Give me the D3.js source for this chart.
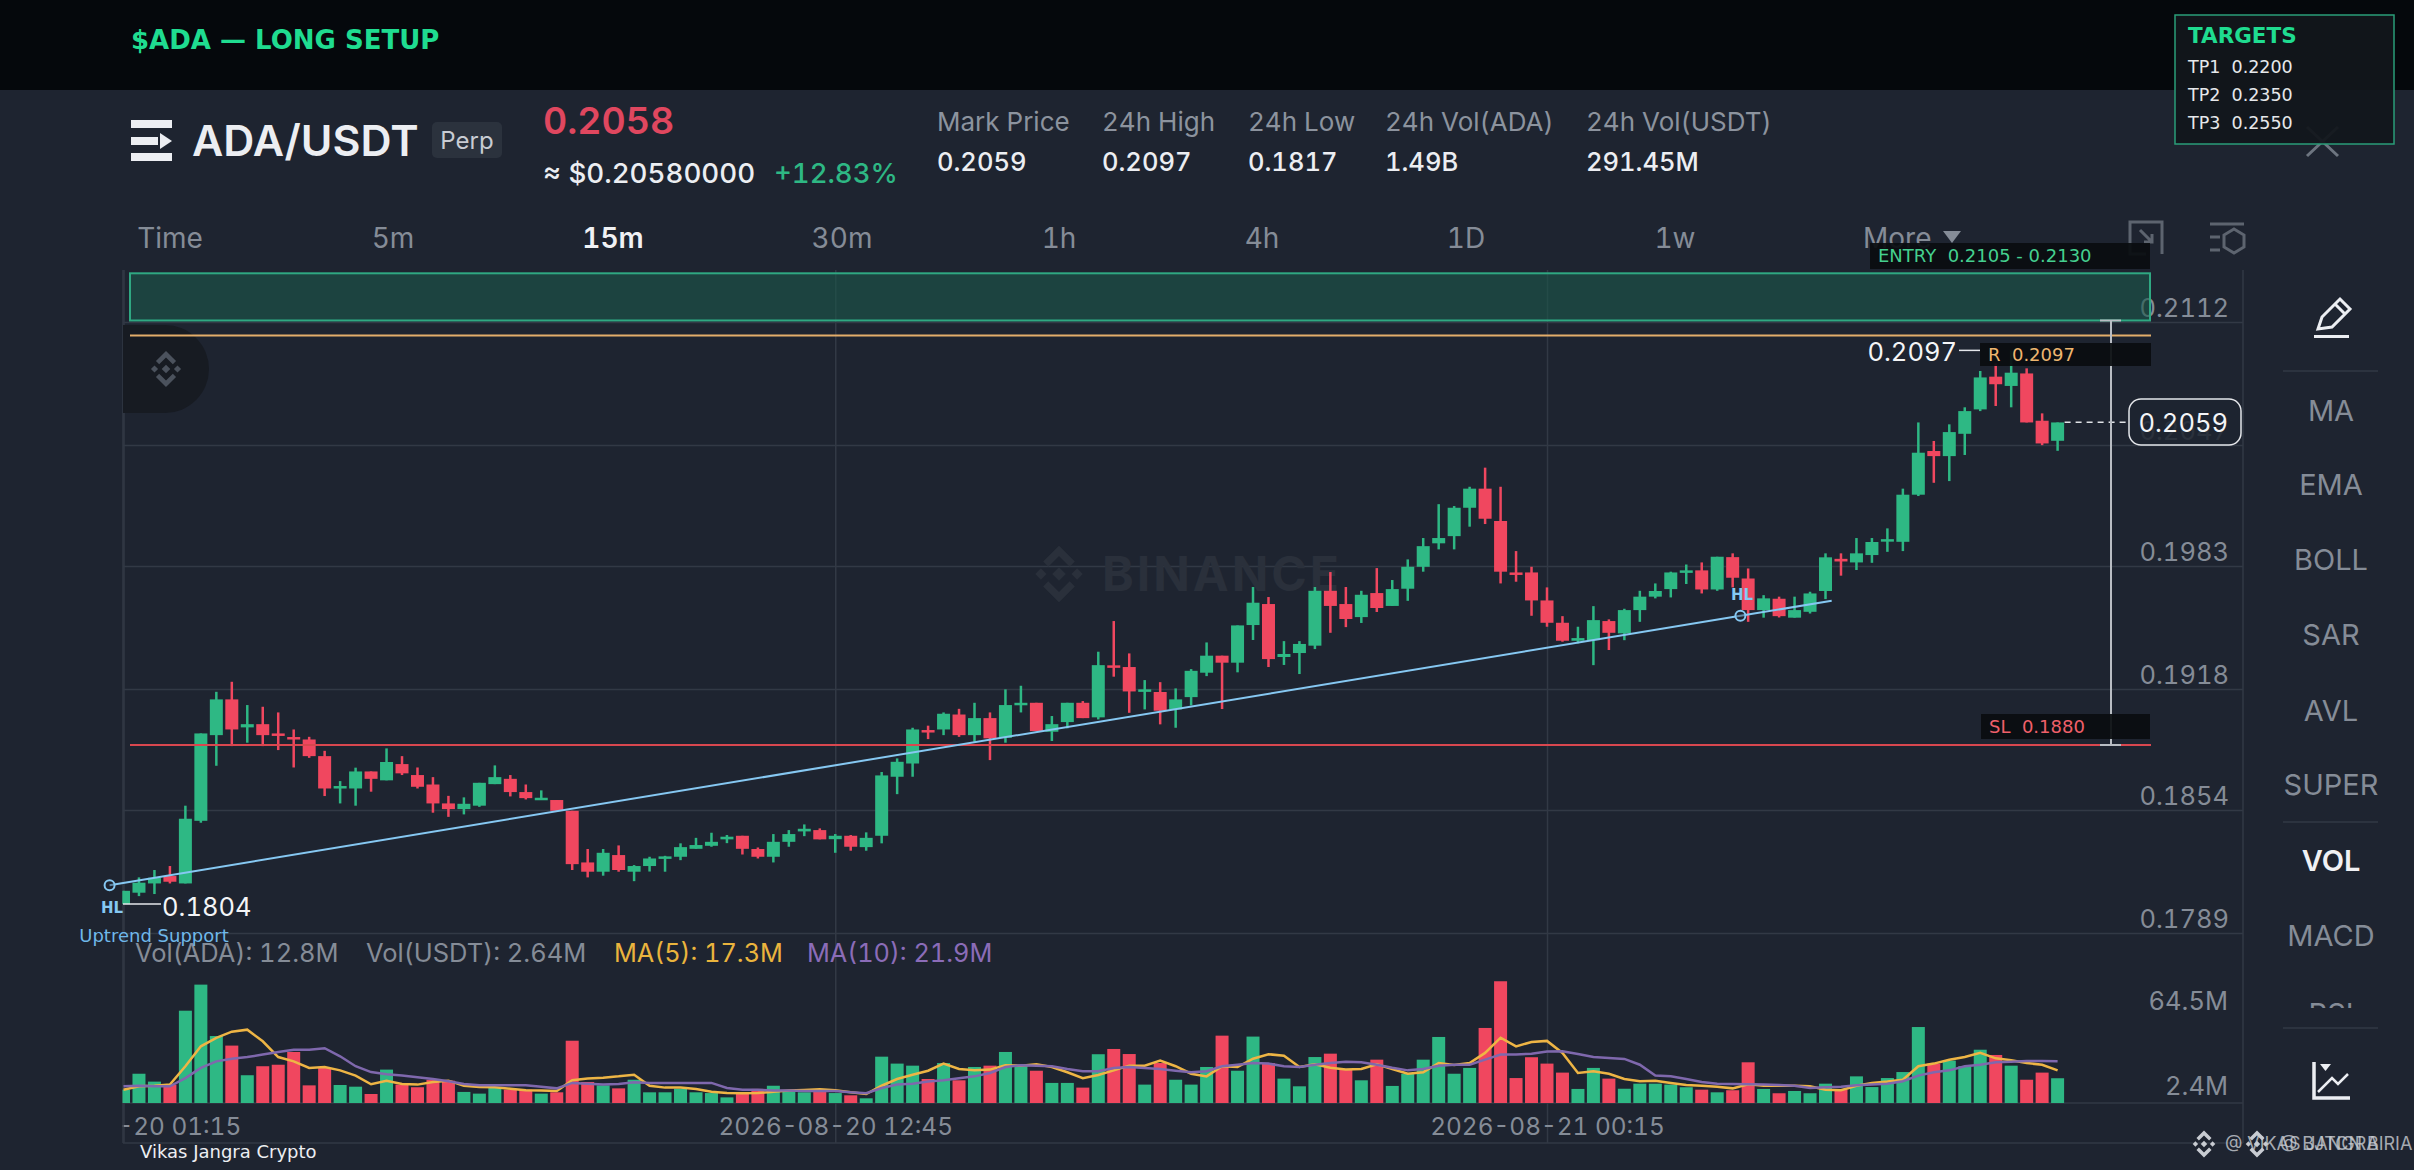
<!DOCTYPE html>
<html>
<head>
<meta charset="utf-8">
<style>
html, body { margin: 0; padding: 0; background: #1e2430; }
svg { display: block; }
text { font-family: Inter, "Noto Sans", sans-serif; font-variant-numeric: tabular-nums; }
.note { font-family: "DejaVu Sans", sans-serif; }
.axis .domain { display: none; }
.axis line { stroke: #323945; stroke-width: 1.5; }
.axis text { fill: #858c97; font-size: 25.5px; font-family: Inter, sans-serif; }
.axis.time text { font-size: 24.4px; }
</style>
</head>
<body>
<svg width="2414" height="1170"></svg>
<script src="https://d3js.org/d3.v7.min.js"></script>
<script>
// 15m candles
var open = [.18043,.18103,.18152,.18191,.18152,.18483,.18936,.19125,.18977,.18994,.18945,.18926,.18913,.18825,.18656,.18654,.18744,.18697,.18783,.18725,.18675,.18575,.18545,.18563,.18677,.18705,.18635,.18596,.18593,.18536,.18263,.18214,.18302,.18214,.18244,.18286,.18293,.18335,.18351,.18385,.18404,.18334,.18293,.18372,.18427,.18434,.18386,.18404,.18344,.18404,.18716,.18786,.18963,.18966,.19045,.18936,.19026,.18922,.19098,.19107,.18954,.19005,.19107,.19030,.19305,.19296,.19169,.19164,.19072,.19137,.19266,.19356,.19319,.19518,.19629,.19349,.19370,.19409,.19699,.19629,.19560,.19687,.19619,.19710,.19826,.19950,.19988,.20138,.20239,.20068,.19796,.19796,.19648,.19530,.19435,.19438,.19539,.19474,.19597,.19668,.19708,.19800,.19807,.19706,.19877,.19764,.19597,.19657,.19557,.19588,.19698,.19868,.19849,.19888,.19964,.19958,.20207,.20438,.20411,.20529,.20658,.20831,.20782,.20848,.20598,.20492];
var high = [.18113,.18184,.18223,.18244,.18563,.18945,.19165,.19218,.19095,.19086,.19056,.18966,.18927,.18853,.18693,.18764,.18744,.18866,.18825,.18765,.18714,.18615,.18607,.18684,.18776,.18725,.18675,.18644,.18593,.18536,.18334,.18334,.18353,.18249,.18293,.18298,.18364,.18393,.18420,.18408,.18404,.18342,.18413,.18434,.18464,.18443,.18413,.18408,.18422,.18741,.18813,.18975,.18986,.19056,.19075,.19107,.19056,.19178,.19197,.19107,.19037,.19107,.19116,.19377,.19539,.19368,.19227,.19216,.19183,.19285,.19426,.19356,.19516,.19719,.19666,.19433,.19433,.19719,.19798,.19719,.19699,.19819,.19756,.19865,.19978,.20157,.20147,.20249,.20350,.20249,.19909,.19826,.19717,.19565,.19509,.19618,.19548,.19604,.19699,.19738,.19800,.19838,.19849,.19879,.19897,.19817,.19676,.19668,.19668,.19694,.19897,.19897,.19978,.19978,.20029,.20239,.20589,.20491,.20579,.20669,.20861,.20901,.20970,.20875,.20637,.20589];
var low = [.18043,.18085,.18096,.18152,.18152,.18473,.18774,.18878,.18896,.18878,.18857,.18765,.18816,.18614,.18575,.18563,.18637,.18697,.18725,.18654,.18526,.18504,.18517,.18557,.18677,.18612,.18596,.18596,.18536,.18223,.18184,.18193,.18214,.18164,.18215,.18214,.18275,.18335,.18346,.18365,.18305,.18284,.18263,.18346,.18402,.18385,.18314,.18325,.18325,.18364,.18624,.18716,.18915,.18936,.18927,.18901,.18804,.18896,.19056,.18957,.18905,.18972,.19026,.19019,.19245,.19054,.19072,.18993,.18975,.19093,.19248,.19074,.19268,.19439,.19296,.19307,.19259,.19391,.19477,.19507,.19529,.19587,.19619,.19646,.19800,.19918,.19918,.20038,.20052,.19738,.19747,.19567,.19509,.19430,.19421,.19306,.19386,.19438,.19535,.19659,.19664,.19735,.19685,.19699,.19717,.19535,.19557,.19558,.19557,.19579,.19655,.19779,.19809,.19847,.19905,.19909,.20200,.20270,.20279,.20417,.20649,.20676,.20669,.20589,.20469,.20439];
var close = [.18113,.18156,.18182,.18161,.18494,.18945,.19125,.18966,.18994,.18936,.18933,.18917,.18825,.18654,.18667,.18744,.18705,.18794,.18734,.18663,.18575,.18545,.18573,.18684,.18714,.18635,.18603,.18605,.18536,.18254,.18214,.18314,.18223,.18244,.18284,.18295,.18344,.18355,.18372,.18399,.18335,.18293,.18372,.18413,.18441,.18385,.18404,.18346,.18393,.18723,.18795,.18966,.18950,.19049,.18936,.19026,.18919,.19095,.19107,.18957,.18994,.19107,.19026,.19306,.19294,.19167,.19178,.19065,.19125,.19276,.19356,.19319,.19516,.19636,.19338,.19365,.19418,.19699,.19619,.19550,.19678,.19608,.19708,.19826,.19935,.19978,.20138,.20239,.20080,.19800,.19787,.19648,.19530,.19435,.19449,.19544,.19477,.19597,.19668,.19698,.19796,.19807,.19706,.19879,.19768,.19597,.19659,.19565,.19597,.19685,.19876,.19854,.19897,.19957,.19972,.20207,.20429,.20411,.20538,.20649,.20827,.20791,.20852,.20589,.20478,.20589];

// volume panel, millions of ADA
var volume = [7.1,15.6,11.4,9.8,49.2,63.1,35.7,30.6,14.8,19.6,20.4,27.2,9.4,18.7,9.6,8.7,4.8,17.8,9.8,8.4,12.4,11.9,5.9,5.0,8.0,7.1,7.1,5.0,5.7,33.2,11.2,9.4,7.8,12.4,5.7,5.7,7.6,5.7,5.3,3.0,5.0,7.5,9.2,6.2,5.7,6.6,5.3,4.1,2.5,24.7,21.0,19.9,12.8,21.3,12.1,19.2,19.9,27.2,19.6,17.2,10.7,10.7,8.2,26.0,28.8,26.1,9.8,21.3,12.4,9.8,19.2,35.9,17.2,35.4,21.3,13.0,8.9,24.5,26.3,18.1,12.1,23.1,9.1,15.6,23.1,35.2,15.6,18.7,40.0,64.9,13.3,24.4,21.0,16.2,7.5,18.7,13.0,7.6,10.3,10.3,9.8,8.4,7.1,5.7,6.8,21.7,7.5,5.2,6.4,5.2,10.3,7.1,14.2,8.5,13.3,16.5,40.5,21.0,22.6,19.6,28.4,25.6,19.9,12.4,16.2,13.2];
var ma5 = [7.1,8.9,9.2,9.8,19.6,30.2,34.7,38.0,39.1,32.9,24.5,22.2,18.7,19.2,17.4,14.6,10.0,11.9,10.1,9.8,11.2,11.9,9.2,8.5,8.4,7.6,6.8,6.6,6.4,12.1,13.0,13.5,14.2,15.1,9.2,8.2,8.2,7.5,6.0,5.3,5.2,5.3,6.0,6.6,6.9,7.3,6.8,5.7,4.8,9.2,12.8,15.1,17.2,21.0,18.1,17.4,17.8,20.1,19.9,20.6,19.2,16.4,13.2,14.9,17.4,19.9,19.9,22.6,19.6,15.6,14.2,19.6,19.2,23.6,26.0,25.2,19.2,20.6,18.8,17.8,18.1,20.6,18.1,15.6,16.4,21.3,20.3,21.3,26.7,34.8,30.2,32.5,33.1,26.7,16.0,16.9,15.6,12.8,11.6,11.9,10.7,9.6,9.2,8.7,7.8,10.0,9.2,9.2,9.2,8.9,7.1,6.8,9.2,10.7,11.4,12.4,19.6,21.0,23.1,24.5,26.7,23.8,22.8,21.3,20.4,17.4];
var ma10 = [8.9,9.2,8.9,8.9,13.3,18.7,22.2,23.6,24.5,25.8,27.2,28.4,28.4,29.2,24.9,19.6,16.5,15.3,14.6,13.7,12.8,11.6,10.1,9.4,9.4,9.4,9.4,8.7,7.8,10.7,10.3,9.8,10.1,11.0,10.7,10.7,10.7,10.7,10.7,8.0,7.1,7.1,6.6,6.6,6.4,6.4,6.4,5.7,5.2,8.0,9.8,10.3,11.4,12.1,13.2,14.2,16.0,19.2,20.1,19.9,19.6,18.1,16.9,16.9,18.7,19.2,18.7,18.1,17.2,16.4,16.9,19.6,20.4,21.3,21.0,19.6,19.2,20.4,21.3,22.0,21.7,20.4,18.8,17.4,18.1,19.9,20.4,20.4,23.1,25.8,25.8,26.3,27.4,27.6,26.1,24.5,24.0,23.5,20.4,14.6,14.2,12.8,11.2,10.3,10.1,10.0,9.8,9.6,9.2,8.0,8.4,8.7,9.4,9.8,10.3,11.6,14.6,16.4,17.4,19.6,20.4,21.7,22.0,22.4,22.4,22.2];

var priceTicks = [.2112,.2047,.1983,.1918,.1854,.1789];
var timeTicks = [0,46,92];
var timeLabels = ["2026-08-20 01:15","2026-08-20 12:45","2026-08-21 00:15"];

// drawn setup levels, they sit on their own scale in the picture
var entryZone = [.2105,.2130];
var resistance = .2097;
var stopLoss = .1880;
var trendIdx = [-0.9,104.5,110.4];
var trendPrice = [.18143,.19567,.19646];

var intervals = ["Time","5m","15m","30m","1h","4h","1D","1w"];
var intervalX = [170,393,613,842,1059,1262,1466,1675];
var statLabels = ["Mark Price","24h High","24h Low","24h Vol(ADA)","24h Vol(USDT)"];
var statValues = ["0.2059","0.2097","0.1817","1.49B","291.45M"];
var statX = [937,1102,1248,1385,1586];
var sideItems = ["MA","EMA","BOLL","SAR","AVL","SUPER","VOL","MACD"];
var sideY = [411,485,560,635,711,785,861,936];
var targetRows = ["TP1  0.2200","TP2  0.2350","TP3  0.2550"];

var green = "#2eb884", red = "#f0475f", grey = "#858c97";

var svg = d3.select("svg");
var x = d3.scaleLinear().domain([0,125]).range([123.5,2057.6]);
var y = d3.scaleLinear().domain([.1789,.2112]).range([933,322]);
var yVol = d3.scaleLinear().domain([0,64.5]).range([1103,982]);
var yNote = d3.scaleLinear().domain([stopLoss,entryZone[1]]).range([745,273.3]);

function label(g, str, px, py, size, fill, anchor, weight, cls) {
  return g.append("text").attr("x",px).attr("y",py).attr("dy",".35em")
    .attr("font-size",size).attr("fill",fill)
    .attr("text-anchor",anchor||"start").attr("font-weight",weight||400)
    .attr("class",cls||null).style("white-space","pre").text(str);
}

// binance diamond
function logo(g, cx, cy, s, fill) {
  var d = g.append("g").attr("transform","translate("+cx+","+cy+") rotate(45) scale("+s+")").attr("fill",fill);
  d.append("rect").attr("x",-.24).attr("y",-.24).attr("width",.48).attr("height",.48);
  d.append("path").attr("d","M-1,-1H.12V-.64H-.64V.12H-1Z");
  d.append("path").attr("d","M1,1H-.12V.64H.64V-.12H1Z");
  d.append("rect").attr("x",-.84).attr("y",.44).attr("width",.4).attr("height",.4);
  d.append("rect").attr("x",.44).attr("y",-.84).attr("width",.4).attr("height",.4);
}

svg.append("rect").attr("width",2414).attr("height",1170).attr("fill","#1e2430");
svg.append("rect").attr("width",2414).attr("height",90).attr("fill","#05080c");

var defs = svg.append("defs");
defs.append("clipPath").attr("id","plot").append("rect").attr("x",122.5).attr("y",0).attr("width",2120).attr("height",1170);

// header
label(svg,"$ADA — LONG SETUP",131,40,26,"#1fdc90","start",700,"note");

var ham = svg.append("g").attr("fill","#eceef2");
ham.append("rect").attr("x",131).attr("y",120).attr("width",41).attr("height",8);
ham.append("rect").attr("x",131).attr("y",137).attr("width",27).attr("height",8);
ham.append("path").attr("d","M160,133L172,141L160,149Z");
ham.append("rect").attr("x",131).attr("y",153).attr("width",41).attr("height",8);

label(svg,"ADA/USDT",192,141,43,"#eceef2","start",600);
svg.append("rect").attr("x",432).attr("y",122).attr("width",70).attr("height",36).attr("rx",5).attr("fill","#2b323d");
label(svg,"Perp",467,141,24,"#c8ccd3","middle");
label(svg,"0.2058",543,121,37.5,"#e0475f","start",600);
label(svg,"≈ $0.20580000",543,173,27.7,"#eceef2","start",500);
label(svg,"+12.83%",774,173,27.5,green,"start",500);

statLabels.forEach(function(s,i){ label(svg,s,statX[i],122,26,"#8c939e"); });
statValues.forEach(function(s,i){ label(svg,s,statX[i],162,25.5,"#eceef2","start",500); });

intervals.forEach(function(s,i){
  label(svg,s,intervalX[i],238,28,s=="15m"?"#f0f1f4":grey,"middle",s=="15m"?600:400);
});
label(svg,"More",1863,238,28,grey);
svg.append("path").attr("d","M1943,231H1961L1952,243Z").attr("fill",grey);

// little toolbar icons
var ico = svg.append("g").attr("fill","none").attr("stroke","#5d646f").attr("stroke-width",3);
ico.append("path").attr("d","M2162,254V222H2130V254H2146M2140,230L2152,242M2152,234V242H2144");
ico.append("path").attr("d","M2210,224H2244M2210,237H2220M2210,250H2220");
ico.append("path").attr("d","M2234,229L2244,235V247L2234,253L2224,247V235Z");

// axes and grid
var gy = svg.append("g").attr("class","axis").attr("transform","translate(2243,0)")
  .call(d3.axisLeft(y).tickValues(priceTicks).tickSize(2120).tickFormat(d3.format(".4f")));
gy.selectAll("text").attr("x",-14).attr("y",-14).attr("text-anchor","end").attr("dy",".35em");

var gx = svg.append("g").attr("clip-path","url(#plot)")
  .append("g").attr("class","axis time").attr("transform","translate(0,1143)")
  .call(d3.axisBottom(x).tickValues(timeTicks).tickSize(-873).tickFormat(function(d,i){ return timeLabels[i]; }));
gx.selectAll("text").attr("y",-17).attr("dy",".35em");

var frame = svg.append("g").attr("stroke","#323945").attr("stroke-width",1.5);
frame.append("line").attr("x1",123).attr("x2",2243).attr("y1",1143).attr("y2",1143);
frame.append("line").attr("x1",123).attr("x2",2243).attr("y1",yVol(0)).attr("y2",yVol(0));
frame.append("line").attr("x1",2243).attr("x2",2243).attr("y1",270).attr("y2",1143);
frame.append("line").attr("x1",123).attr("x2",123).attr("y1",270).attr("y2",1143);

// watermark and corner badge
logo(svg,1059,574,20,"#2a303b");
svg.append("text").attr("x",1102).attr("y",591).attr("font-size",48).attr("font-weight",700)
  .attr("letter-spacing",3).attr("fill","#2a303b").text("BINANCE");
svg.append("path").attr("d","M123,325H165A44,44 0 0 1 165,413H123Z").attr("fill","#171b22");
logo(svg,166,369,12.7,"#4b525d");

// volume
var plot = svg.append("g").attr("clip-path","url(#plot)");
plot.selectAll(".vol").data(volume).join("rect").attr("class","vol")
  .attr("x",function(d,i){ return x(i)-6.5; }).attr("width",13)
  .attr("y",function(d){ return yVol(d); })
  .attr("height",function(d){ return yVol(0)-yVol(d); })
  .attr("fill",function(d,i){ return close[i]>=open[i]?green:red; });

var maLine = d3.line().x(function(d,i){ return x(i); }).y(function(d){ return yVol(d); });
plot.append("path").datum(ma5).attr("d",maLine).attr("fill","none").attr("stroke","#eeb545").attr("stroke-width",2.5);
plot.append("path").datum(ma10).attr("d",maLine).attr("fill","none").attr("stroke","#7f68ad").attr("stroke-width",2.5);

label(svg,"Vol(ADA): 12.8M",135,953,25.5,grey);
label(svg,"Vol(USDT): 2.64M",366,953,25.5,grey);
label(svg,"MA(5): 17.3M",614,953,25.3,"#eab43d");
label(svg,"MA(10): 21.9M",807,953,25.3,"#8b6cb8");
label(svg,"64.5M",2228,1001,25.5,grey,"end");
label(svg,"2.4M",2228,1086,25.5,grey,"end");

// candles
var candle = plot.selectAll(".candle").data(open).join("g").attr("class","candle")
  .attr("fill",function(d,i){ return close[i]>=open[i]?green:red; });
candle.append("rect")
  .attr("x",function(d,i){ return x(i)-1.25; }).attr("width",2.5)
  .attr("y",function(d,i){ return y(high[i]); })
  .attr("height",function(d,i){ return y(low[i])-y(high[i]); });
candle.append("rect")
  .attr("x",function(d,i){ return x(i)-6.5; }).attr("width",13)
  .attr("y",function(d,i){ return y(Math.max(open[i],close[i])); })
  .attr("height",function(d,i){ return Math.max(2.5,Math.abs(y(open[i])-y(close[i]))); });

// last price
svg.append("line").attr("x1",x(125)+7).attr("x2",2129).attr("y1",y(.2059)).attr("y2",y(.2059))
  .attr("stroke","#dfe2e6").attr("stroke-width",1.5).attr("stroke-dasharray","6,5");
svg.append("rect").attr("x",2129).attr("y",399).attr("width",112).attr("height",46).attr("rx",12)
  .attr("fill","#1e2430").attr("fill-opacity",.88).attr("stroke","#e4e6ea").attr("stroke-width",1.5);
label(svg,"0.2059",2228,423,25.5,"#f4f5f7","end");

// high / low markers
label(svg,"0.2097",1957,352,25.5,"#f4f5f7","end");
svg.append("line").attr("x1",1959).attr("x2",1980).attr("y1",y(.2097)).attr("y2",y(.2097)).attr("stroke","#e4e6ea").attr("stroke-width",1.5);
label(svg,"0.1804",162,907,25.5,"#f4f5f7");
svg.append("line").attr("x1",123).attr("x2",161).attr("y1",y(.18043)).attr("y2",y(.18043)).attr("stroke","#e4e6ea").attr("stroke-width",1.5);

// setup overlay
var over = svg.append("g");
over.append("rect").attr("x",130).attr("width",2020)
  .attr("y",yNote(entryZone[1])).attr("height",yNote(entryZone[0])-yNote(entryZone[1]))
  .attr("fill","#1b584b").attr("fill-opacity",.6).attr("stroke","#2fa882").attr("stroke-width",2);
over.append("line").attr("x1",130).attr("x2",2151).attr("y1",yNote(resistance)).attr("y2",yNote(resistance))
  .attr("stroke","#e3ad6a").attr("stroke-width",2);
over.append("line").attr("x1",130).attr("x2",2151).attr("y1",yNote(stopLoss)).attr("y2",yNote(stopLoss))
  .attr("stroke","#d9474f").attr("stroke-width",2);

// risk bracket
var br = over.append("g").attr("stroke","#b9bdc3").attr("stroke-width",2);
br.append("line").attr("x1",2111).attr("x2",2111).attr("y1",yNote(entryZone[0])).attr("y2",yNote(stopLoss));
br.append("line").attr("x1",2100).attr("x2",2121).attr("y1",yNote(entryZone[0])).attr("y2",yNote(entryZone[0]));
br.append("line").attr("x1",2100).attr("x2",2121).attr("y1",yNote(stopLoss)).attr("y2",yNote(stopLoss));

// trend line
over.append("path").datum(trendIdx).attr("fill","none").attr("stroke","#86c8f2").attr("stroke-width",2)
  .attr("d",d3.line().x(function(d){ return x(d); }).y(function(d,i){ return y(trendPrice[i]); }));
[0,1].forEach(function(k){
  over.append("circle").attr("cx",x(trendIdx[k])).attr("cy",y(trendPrice[k])).attr("r",5)
    .attr("fill","#1e2430").attr("fill-opacity",.4).attr("stroke","#86c8f2").attr("stroke-width",2);
});
label(over,"HL",112,908,15,"#86c8f2","middle",700,"note");
label(over,"HL",1742,595,15,"#86c8f2","middle",700,"note");
label(over,"Uptrend Support",154,936,18,"#6fb8ea","middle",400,"note");

// note boxes
function noteBox(bx, by, bw, bh, str, fill) {
  over.append("rect").attr("x",bx).attr("y",by).attr("width",bw).attr("height",bh).attr("fill","#0a0d10").attr("fill-opacity",.93);
  label(over,str,bx+8,by+bh/2,18,fill,"start",400,"note");
}
noteBox(1870,243,280,26,"ENTRY  0.2105 - 0.2130","#45d08f");
noteBox(1980,343,171,23,"R  0.2097","#eeb66f");
noteBox(1981,714,169,25,"SL  0.1880","#f0606a");

// right side panel
svg.append("path").attr("d","M2318,329L2322,317L2340,299L2350,309L2332,327Z M2335,304L2345,314")
  .attr("fill","none").attr("stroke","#eceef2").attr("stroke-width",3);
svg.append("rect").attr("x",2314).attr("y",335).attr("width",35).attr("height",3).attr("fill","#eceef2");
[371,822,1028].forEach(function(py){
  svg.append("line").attr("x1",2283).attr("x2",2378).attr("y1",py).attr("y2",py).attr("stroke","#323945").attr("stroke-width",1.5);
});
sideItems.forEach(function(s,i){
  label(svg,s,2331,sideY[i],29,s=="VOL"?"#f0f1f4":grey,"middle",s=="VOL"?600:400);
});
defs.append("clipPath").attr("id","rsi").append("rect").attr("x",2280).attr("y",990).attr("width",100).attr("height",18);
svg.append("g").attr("clip-path","url(#rsi)").call(function(g){ label(g,"RSI",2331,1014,29,grey,"middle"); });

var ci = svg.append("g").attr("fill","none").attr("stroke","#eceef2");
ci.append("path").attr("d","M2314,1062V1098H2350").attr("stroke-width",3.5);
ci.append("path").attr("d","M2318,1092L2332,1078L2338,1084L2348,1074").attr("stroke-width",2.5);
svg.append("path").attr("d","M2320,1064H2331L2325.5,1071Z").attr("fill","#eceef2");

// targets box
svg.append("path").attr("d","M2307,127L2338,156M2338,127L2307,156").attr("stroke","#6d7580").attr("stroke-width",3);
var tb = svg.append("g");
tb.append("rect").attr("x",2175).attr("y",15).attr("width",219).attr("height",129).attr("fill","#12161c").attr("fill-opacity",.94).attr("stroke","#2a9d78").attr("stroke-width",1.5);
label(tb,"TARGETS",2188,35,21.5,"#1fdc90","start",700,"note");
targetRows.forEach(function(s,i){
  label(tb,s,2188,67+28*i,17.5,"#e6e8eb","start",400,"note");
});

// credits
label(svg,"Vikas Jangra Crypto",140,1152,18,"#eceef2","start",400,"note");
logo(svg,2204,1144,9.5,"#c8ccd2");
logo(svg,2257,1144,9.5,"#c8ccd2");
label(svg,"@ VIKAS JANGRA",2225,1144,18,"#c8ccd2").attr("opacity",.8);
label(svg,"@ BJTCN BIRIA",2280,1144,18,"#c8ccd2").attr("opacity",.8);
</script>
</body>
</html>
